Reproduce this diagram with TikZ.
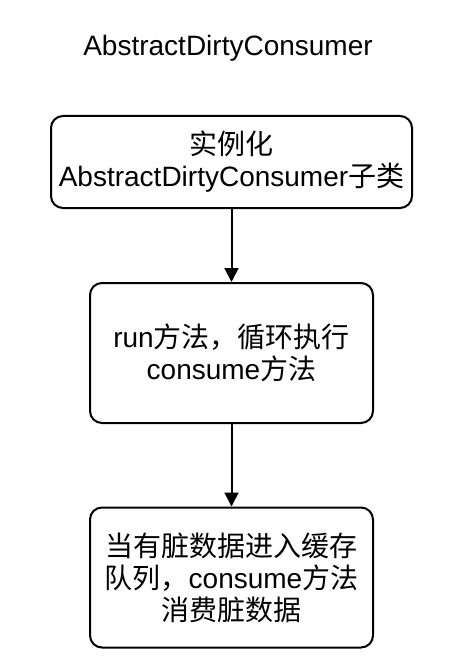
\documentclass[tikz,border=0pt]{standalone}
\usepackage{fontspec}
\setmainfont{Liberation Sans}
\newfontfamily\cjk{Noto Sans CJK SC}
\newcommand{\zh}[1]{{\cjk #1}}
\usetikzlibrary{arrows.meta}
\begin{document}
\begin{tikzpicture}[x=0.5pt,y=-0.5pt,
  box/.style={draw, line width=1pt, rounded corners=6pt, align=center, font=\fontsize{14}{16}\selectfont},
  flow/.style={draw, line width=1pt, -{Triangle[length=7pt,width=7pt]}}]
\useasboundingbox (0,0) rectangle (474,668);
\node[font=\fontsize{14}{16}\selectfont] (title) at (228,48) {AbstractDirtyConsumer};
\node[box, minimum width=180.5pt, minimum height=46pt] (inst) at (231.5,162) {\zh{实例化}\\AbstractDirtyConsumer\zh{子类}};
\node[box, minimum width=141.5pt, minimum height=70pt] (run) at (231.5,353) {run\zh{方法，循环执行}\\consume\zh{方法}};
\node[box, minimum width=141.5pt, minimum height=70pt] (consume) at (231.5,577.5) {\zh{当有脏数据进入缓存}\\\zh{队列，}consume\zh{方法}\\\zh{消费脏数据}};
\path[flow] (inst) -- (run);
\path[flow] (run) -- (consume);
\end{tikzpicture}
\end{document}
